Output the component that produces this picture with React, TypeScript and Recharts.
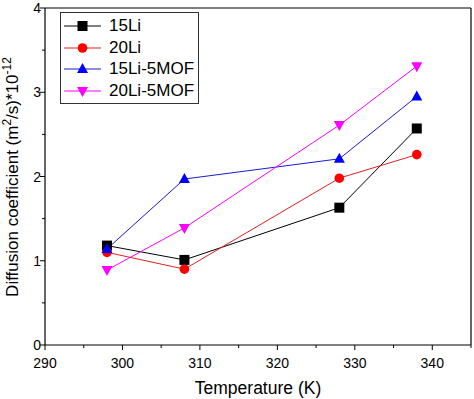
import React from 'react';
import { LineChart, Line, XAxis, YAxis, Legend, ReferenceLine } from 'recharts';

const temperatures = [298, 308, 328, 338];
const li15 = [1.18, 1.01, 1.63, 2.57];
const li20 = [1.1, 0.9, 1.98, 2.26];
const li15Mof = [1.14, 1.97, 2.21, 2.95];
const li20Mof = [0.89, 1.39, 2.61, 3.31];

const xTicks = [290, 295, 300, 305, 310, 315, 320, 325, 330, 335, 340, 345];
const yTicks = [0, 0.5, 1, 1.5, 2, 2.5, 3, 3.5, 4];

const data = temperatures.map((t, i) => ({
  t,
  li15: li15[i],
  li20: li20[i],
  li15Mof: li15Mof[i],
  li20Mof: li20Mof[i],
}));

const FONT = '"Liberation Sans", Arial, sans-serif';

type Shape = 'square' | 'circle' | 'up' | 'down';

const series: { key: string; name: string; line: string; fill: string; shape: Shape }[] = [
  { key: 'li15', name: '15Li', line: '#000000', fill: '#000000', shape: 'square' },
  { key: 'li20', name: '20Li', line: '#e02020', fill: '#ff0000', shape: 'circle' },
  { key: 'li15Mof', name: '15Li-5MOF', line: '#1a1ad0', fill: '#0000ff', shape: 'up' },
  { key: 'li20Mof', name: '20Li-5MOF', line: '#ff00ff', fill: '#ff00ff', shape: 'down' },
];

function Marker({ cx, cy, shape, fill }: { cx: number; cy: number; shape: Shape; fill: string }) {
  if (shape === 'square') return <rect x={cx - 5} y={cy - 5} width={10} height={10} fill={fill} />;
  if (shape === 'circle') return <circle cx={cx} cy={cy} r={4.8} fill={fill} />;
  if (shape === 'up')
    return <polygon points={`${cx},${cy - 6} ${cx + 5.5},${cy + 4} ${cx - 5.5},${cy + 4}`} fill={fill} />;
  return <polygon points={`${cx},${cy + 6} ${cx + 5.5},${cy - 4} ${cx - 5.5},${cy - 4}`} fill={fill} />;
}

function XTick(props: any) {
  const { x, y, payload } = props;
  const major = payload.value % 10 === 0;
  return (
    <g>
      <line x1={x} y1={y} x2={x} y2={y + (major ? 5 : 3)} stroke="#000" strokeWidth={1} />
      {major && (
        <text x={x} y={y + 23} textAnchor="middle" fontSize={14} fontFamily={FONT} fill="#000">
          {payload.value}
        </text>
      )}
    </g>
  );
}

function YTick(props: any) {
  const { x, y, payload } = props;
  const major = Number.isInteger(payload.value);
  return (
    <g>
      <line x1={x} y1={y} x2={x - (major ? 5 : 3)} y2={y} stroke="#000" strokeWidth={1} />
      {major && (
        <text x={x - 4} y={y + 5} textAnchor="end" fontSize={14} fontFamily={FONT} fill="#000">
          {payload.value}
        </text>
      )}
    </g>
  );
}

function YLabel() {
  return (
    <text
      x={18}
      y={177}
      transform="rotate(-90, 18, 177)"
      textAnchor="middle"
      fontSize={17}
      fontFamily={FONT}
      fill="#000"
    >
      Diffusion coefficient (m
      <tspan dy={-7} fontSize={12}>2</tspan>
      <tspan dy={7}>/s)*10</tspan>
      <tspan dy={-7} fontSize={12}>-12</tspan>
    </text>
  );
}

function LegendBox() {
  return (
    <div
      style={{
        border: '1px solid #333',
        background: '#fff',
        width: 137,
        height: 88,
        paddingTop: 2,
        boxSizing: 'content-box',
        fontFamily: FONT,
        fontSize: 17,
      }}
    >
      {series.map((s) => (
        <div key={s.key} style={{ display: 'flex', alignItems: 'center', height: 21.7 }}>
          <svg width={46} height={20} style={{ marginLeft: 2 }}>
            <line x1={1} y1={10} x2={38} y2={10} stroke={s.line} strokeWidth={1} />
            <Marker cx={19.5} cy={10} shape={s.shape} fill={s.fill} />
          </svg>
          <span style={{ color: '#000' }}>{s.name}</span>
        </div>
      ))}
    </div>
  );
}

export default function App() {
  return (
    <div style={{ position: 'absolute', left: 0, top: 0, width: 474, height: 399, background: '#fff' }}>
      <LineChart width={474} height={399} data={data} margin={{ top: 8, right: 3, left: 0, bottom: 0 }}>
        <XAxis
          dataKey="t"
          type="number"
          domain={[290, 345]}
          ticks={xTicks}
          interval={0}
          tick={<XTick />}
          tickLine={false}
          tickSize={0}
          tickMargin={0}
          height={54}
          axisLine={{ stroke: '#000', strokeWidth: 1.2 }}
          label={{
            value: 'Temperature (K)',
            position: 'insideBottom',
            offset: 5,
            fontSize: 17.5,
            fontFamily: FONT,
            fill: '#000',
          }}
        />
        <YAxis
          type="number"
          domain={[0, 4]}
          ticks={yTicks}
          interval={0}
          tick={<YTick />}
          tickLine={false}
          tickSize={0}
          tickMargin={0}
          width={45}
          axisLine={{ stroke: '#000', strokeWidth: 1.2 }}
          label={<YLabel />}
        />
        <ReferenceLine y={4} stroke="#000" strokeWidth={1.2} />
        <ReferenceLine x={345} stroke="#000" strokeWidth={1.2} />
        <Legend
          layout="vertical"
          align="center"
          verticalAlign="middle"
          content={() => <LegendBox />}
          wrapperStyle={{ position: 'absolute', left: 60, top: 12, width: 'auto', height: 'auto' }}
        />
        {series.map((s) => (
          <Line
            key={s.key}
            dataKey={s.key}
            name={s.name}
            stroke={s.line}
            strokeWidth={1}
            isAnimationActive={false}
            dot={(p: any) => (
              <Marker key={`${s.key}-${p.index}`} cx={p.cx} cy={p.cy} shape={s.shape} fill={s.fill} />
            )}
            activeDot={false}
          />
        ))}
      </LineChart>
    </div>
  );
}
